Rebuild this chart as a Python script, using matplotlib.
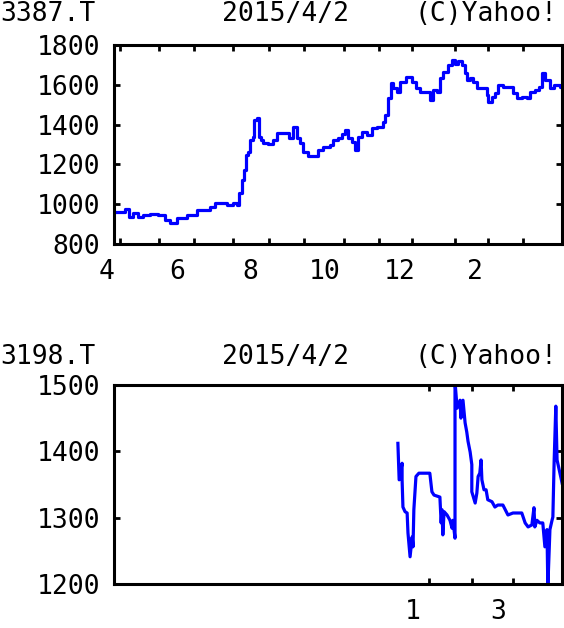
import matplotlib
matplotlib.use('Agg')
import matplotlib.pyplot as plt

# x values are months, counted from the first tick month of each chart
top_code = '3387.T'
bot_code = '3198.T'
date_str = '2015/4/2'
credit = '(C)Yahoo!'

top_x = [0.00, 0.29, 0.40, 0.51, 0.64, 0.78, 0.96, 1.18, 1.37, 1.50, 1.69, 1.96,
         2.22, 2.57, 2.71, 3.03, 3.19, 3.29, 3.35, 3.43, 3.48, 3.54, 3.59, 3.64,
         3.72, 3.75, 3.83, 3.88, 3.94, 3.99, 4.13, 4.26, 4.37, 4.63, 4.69, 4.80,
         4.90, 4.98, 5.06, 5.20, 5.33, 5.46, 5.60, 5.79, 5.87, 6.00, 6.11, 6.19,
         6.27, 6.38, 6.46, 6.54, 6.64, 6.78, 6.91, 7.05, 7.21, 7.26, 7.34, 7.42,
         7.47, 7.58, 7.66, 7.82, 7.98, 8.09, 8.20, 8.38, 8.47, 8.55, 8.65, 8.73,
         8.81, 8.95, 9.05, 9.13, 9.22, 9.32, 9.40, 9.46, 9.54, 9.62, 9.72, 9.88,
         9.99, 10.02, 10.13, 10.21, 10.29, 10.42, 10.55, 10.69, 10.80, 10.93,
         11.06, 11.14, 11.28, 11.38, 11.47, 11.55, 11.68, 11.79, 11.95, 12.00]
top_y = [961, 976, 936, 956, 936, 946, 951, 946, 920, 905, 930, 946,
         971, 986, 1006, 996, 1006, 996, 1056, 1122, 1172, 1247, 1262, 1322,
         1338, 1423, 1433, 1338, 1322, 1307, 1302, 1322, 1358, 1358, 1332, 1388,
         1332, 1307, 1262, 1242, 1242, 1272, 1287, 1297, 1322, 1332, 1352, 1373,
         1332, 1312, 1272, 1338, 1363, 1348, 1383, 1388, 1413, 1448, 1534, 1609,
         1584, 1564, 1614, 1639, 1614, 1584, 1564, 1564, 1524, 1574, 1564, 1634,
         1664, 1699, 1724, 1704, 1719, 1699, 1659, 1624, 1634, 1614, 1584, 1584,
         1549, 1514, 1539, 1559, 1599, 1589, 1589, 1559, 1534, 1539,
         1534, 1564, 1574, 1589, 1659, 1624, 1584, 1599, 1589, 1589]

bot_x = [6.76, 6.79, 6.86, 6.86, 6.88, 6.93, 6.98, 7.00, 7.05, 7.10, 7.12, 7.14,
         7.19, 7.26, 7.52, 7.57, 7.62, 7.76, 7.79, 7.81, 7.83, 7.86, 7.93, 8.00,
         8.05, 8.07, 8.12, 8.12, 8.17, 8.24, 8.26, 8.31, 8.36, 8.40, 8.43, 8.48,
         8.52, 8.52, 8.60, 8.64, 8.67, 8.71, 8.74, 8.76, 8.81, 8.86, 8.90, 9.00,
         9.07, 9.14, 9.26, 9.38, 9.50, 9.71, 9.79, 9.86, 9.95, 10.00, 10.02, 10.07,
         10.14, 10.21, 10.26, 10.31, 10.33, 10.38, 10.43, 10.45, 10.48, 10.52,
         10.55, 10.67]
bot_y = [1412, 1357, 1382, 1357, 1316, 1309, 1307, 1277, 1241, 1271, 1256, 1312,
         1362, 1367, 1367, 1339, 1334, 1331, 1292, 1312, 1274, 1309, 1304, 1296,
         1284, 1296, 1269, 1505, 1465, 1477, 1450, 1477, 1443, 1429, 1415, 1399,
         1380, 1339, 1322, 1337, 1362, 1367, 1387, 1357, 1342, 1342, 1327, 1324,
         1316, 1319, 1319, 1304, 1307, 1307, 1292, 1286, 1289, 1315, 1286, 1296,
         1292, 1292, 1256, 1282, 1195, 1282, 1296, 1301, 1384, 1468,
         1387, 1352]

top_ticks = [0.16, 1.21, 2.14, 3.19, 4.15, 5.09, 6.16, 7.10, 7.98, 9.13, 10.02, 10.96]
top_label_pos = [-0.19, 1.69, 3.64, 5.65, 7.66, 9.67]
top_labels = ['4', '6', '8', '10', '12', '2']
bot_ticks = [7.5, 8.52, 9.5]
bot_label_pos = [7.12, 9.14]
bot_labels = ['1', '3']

FONT = 'DejaVu Sans Mono'
FS = 19
BLUE = '#0000ff'


def style_axes(ax, ticks, label_pos, labels, yticks):
    for s in ax.spines.values():
        s.set_linewidth(2.2)
        s.set_color('black')
    ax.set_yticks(yticks)
    ax.set_yticklabels([str(v) for v in yticks], fontfamily=FONT, fontsize=FS)
    ax.tick_params(axis='y', direction='in', left=True, right=True,
                   length=4, width=2, pad=10)
    ax.set_xticks([])
    # month labels sit between the ticks, some of them left of the frame,
    # so they are placed as annotations instead of tick labels
    for pos, lab in zip(label_pos, labels):
        ax.annotate(lab, xy=(pos, 0), xycoords=('data', 'axes fraction'),
                    xytext=(0, -11), textcoords='offset points',
                    ha='center', va='top', fontfamily=FONT, fontsize=FS,
                    annotation_clip=False)
    ax.set_xticks(ticks, minor=True)
    ax.tick_params(axis='x', which='minor', direction='in', top=True,
                   bottom=True, length=4, width=2)


def header(fig, y, code):
    fig.text(0.0, y, code, fontfamily=FONT, fontsize=FS, va='center', ha='left')
    fig.text(0.394, y, date_str, fontfamily=FONT, fontsize=FS, va='center', ha='left')
    fig.text(0.988, y, credit, fontfamily=FONT, fontsize=FS, va='center', ha='right')


fig = plt.figure(figsize=(5.64, 6.28), dpi=100)

ax1 = fig.add_axes([0.2021, 0.6115, 0.7943, 0.3169])
ax1.plot(top_x, top_y, color=BLUE, linewidth=2.3, drawstyle='steps-post')
ax1.set_xlim(0, 12)
ax1.set_ylim(800, 1800)
style_axes(ax1, top_ticks, top_label_pos, top_labels, [800, 1000, 1200, 1400, 1600, 1800])

ax2 = fig.add_axes([0.2021, 0.0701, 0.7943, 0.3169])
ax2.plot(bot_x, bot_y, color=BLUE, linewidth=2.3)
ax2.set_xlim(0, 448 / 42)
ax2.set_ylim(1200, 1500)
style_axes(ax2, bot_ticks, bot_label_pos, bot_labels, [1200, 1300, 1400, 1500])

header(fig, 0.9777, top_code)
header(fig, 0.4315, bot_code)

fig.savefig('out.png', dpi=100)
